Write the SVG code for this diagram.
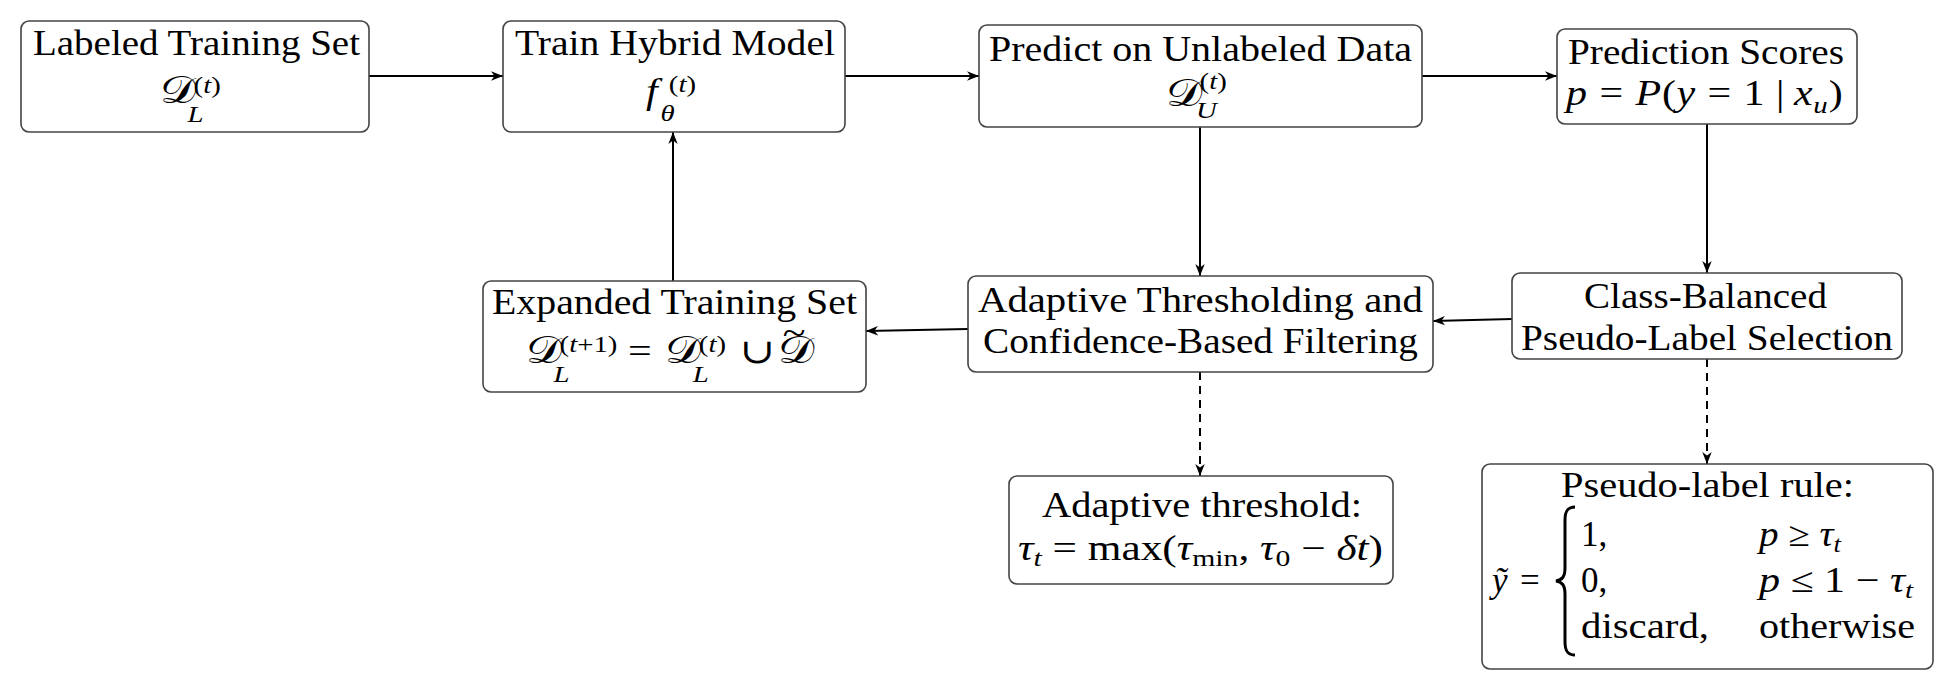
<svg xmlns="http://www.w3.org/2000/svg" width="1952" height="689" viewBox="0 0 1952 689">
<defs>
<style>
.box{fill:#fff;stroke:#444;stroke-width:1.6}
.t{font-family:"Liberation Serif","DejaVu Serif",serif;font-size:35px;fill:#000}
.i{font-style:italic}
.s{font-size:24px}
.cal{font-family:"DejaVu Sans","Noto Sans","Liberation Serif",serif;font-style:normal;font-size:38px}
.ln{fill:none;stroke:#000;stroke-width:2}
.dash{stroke-dasharray:8 6}
</style>
<marker id="ah" markerUnits="userSpaceOnUse" markerWidth="14" markerHeight="12" refX="12" refY="5" orient="auto">
<path d="M0,0.3 L12,5 L0,9.7 L3.5,5 Z" fill="#000"/>
</marker>
</defs>
<rect width="1952" height="689" fill="#fff"/>

<g id="connectors">
<line class="ln" x1="369" y1="76" x2="503" y2="76" marker-end="url(#ah)"/>
<line class="ln" x1="845" y1="76" x2="979" y2="76" marker-end="url(#ah)"/>
<line class="ln" x1="1422" y1="76" x2="1557" y2="76" marker-end="url(#ah)"/>
<line class="ln" x1="1707" y1="124" x2="1707" y2="273" marker-end="url(#ah)"/>
<line class="ln" x1="1200" y1="127" x2="1200" y2="276" marker-end="url(#ah)"/>
<line class="ln" x1="1512" y1="319" x2="1433" y2="321" marker-end="url(#ah)"/>
<line class="ln" x1="968" y1="329" x2="866" y2="331" marker-end="url(#ah)"/>
<line class="ln" x1="673" y1="281" x2="673" y2="132" marker-end="url(#ah)"/>
<line class="ln dash" x1="1200" y1="372" x2="1200" y2="476" marker-end="url(#ah)"/>
<line class="ln dash" x1="1707" y1="359" x2="1707" y2="464" marker-end="url(#ah)"/>
</g>

<g id="labeled">
<rect class="box" x="21" y="21" width="348" height="111" rx="8"/>
<text class="t" x="33" y="55" textLength="327" lengthAdjust="spacingAndGlyphs">Labeled Training Set</text>
<g transform="translate(160,0) scale(1.2,1)">
<text class="t" y="103"><tspan class="cal" x="0">𝒟</tspan><tspan class="s" x="28" y="93">(<tspan class="i">t</tspan>)</tspan><tspan class="s i" x="23" y="122">L</tspan></text>
</g>
</g>

<g id="train">
<rect class="box" x="503" y="21" width="342" height="111" rx="8"/>
<text class="t" x="515" y="55" textLength="320" lengthAdjust="spacingAndGlyphs">Train Hybrid Model</text>
<g transform="translate(646,0) scale(1.2,1)">
<text class="t" y="103"><tspan class="i" x="0">f</tspan><tspan class="s i" x="12" y="121">θ</tspan><tspan class="s" x="19" y="92">(<tspan class="i">t</tspan>)</tspan></text>
</g>
</g>

<g id="predict">
<rect class="box" x="979" y="25" width="443" height="102" rx="8"/>
<text class="t" x="989" y="61" textLength="423" lengthAdjust="spacingAndGlyphs">Predict on Unlabeled Data</text>
<g transform="translate(1166,0) scale(1.2,1)">
<text class="t" y="106"><tspan class="cal" x="0">𝒟</tspan><tspan class="s" x="28" y="89">(<tspan class="i">t</tspan>)</tspan><tspan class="s i" x="25" y="118">U</tspan></text>
</g>
</g>

<g id="scores">
<rect class="box" x="1557" y="29" width="300" height="95" rx="8"/>
<text class="t" x="1568" y="64" textLength="276" lengthAdjust="spacingAndGlyphs">Prediction Scores</text>
<g transform="translate(1566,0) scale(1.2,1)">
<text class="t" y="105"><tspan class="i" x="0">p</tspan><tspan x="28">=</tspan><tspan class="i" x="58">P</tspan><tspan x="80">(</tspan><tspan class="i" x="92">y</tspan><tspan x="118">=</tspan><tspan x="148">1</tspan><tspan x="175">|</tspan><tspan class="i" x="190">x</tspan><tspan class="s i" x="206" y="113">u</tspan><tspan x="219" y="105">)</tspan></text>
</g>
</g>

<g id="classbal">
<rect class="box" x="1512" y="273" width="390" height="86" rx="8"/>
<text class="t" x="1584" y="308" textLength="243" lengthAdjust="spacingAndGlyphs">Class-Balanced</text>
<text class="t" x="1521" y="350" textLength="372" lengthAdjust="spacingAndGlyphs">Pseudo-Label Selection</text>
</g>

<g id="adaptive">
<rect class="box" x="968" y="276" width="465" height="96" rx="8"/>
<text class="t" x="978" y="312" textLength="445" lengthAdjust="spacingAndGlyphs">Adaptive Thresholding and</text>
<text class="t" x="983" y="353" textLength="435" lengthAdjust="spacingAndGlyphs">Confidence-Based Filtering</text>
</g>

<g id="expanded">
<rect class="box" x="483" y="281" width="383" height="111" rx="8"/>
<text class="t" x="492" y="314" textLength="365" lengthAdjust="spacingAndGlyphs">Expanded Training Set</text>
<g transform="translate(526,0) scale(1.2,1)">
<text class="t" y="363"><tspan class="cal" x="0">𝒟</tspan><tspan class="s" x="28" y="352">(<tspan class="i">t</tspan>+1)</tspan><tspan class="s i" x="23" y="382">L</tspan><tspan x="85" y="363">=</tspan><tspan class="cal" x="116">𝒟</tspan><tspan class="s" x="144" y="352">(<tspan class="i">t</tspan>)</tspan><tspan class="s i" x="139" y="382">L</tspan><tspan x="178" y="363">∪</tspan><tspan class="cal" x="210">𝒟</tspan><tspan x="214" y="345">~</tspan></text>
</g>
</g>

<g id="threshold">
<rect class="box" x="1009" y="476" width="384" height="108" rx="8"/>
<text class="t" x="1042" y="517" textLength="320" lengthAdjust="spacingAndGlyphs">Adaptive threshold:</text>
<text class="t" x="1018" y="560" textLength="365" lengthAdjust="spacingAndGlyphs"><tspan class="i">τ</tspan><tspan class="s i" dy="6">t</tspan><tspan dy="-6"> = max(</tspan><tspan class="i">τ</tspan><tspan class="s" dy="6">min</tspan><tspan dy="-6">, </tspan><tspan class="i">τ</tspan><tspan class="s" dy="6">0</tspan><tspan dy="-6"> − </tspan><tspan class="i">δt</tspan>)</text>
</g>

<g id="rule">
<rect class="box" x="1482" y="464" width="451" height="205" rx="8"/>
<text class="t" x="1561" y="497" textLength="293" lengthAdjust="spacingAndGlyphs">Pseudo-label rule:</text>
<text class="t" y="592"><tspan class="i" x="1492">ỹ</tspan><tspan x="1520">=</tspan></text>
<path d="M1575,507 C1567,507 1565,512 1565,520 L1565,568 C1565,577 1562,580 1556,581 C1562,582 1565,585 1565,594 L1565,642 C1565,650 1567,655 1575,655" fill="none" stroke="#000" stroke-width="3"/>
<text class="t" x="1581" y="546">1,</text>
<text class="t" x="1581" y="592">0,</text>
<text class="t" x="1581" y="638" textLength="128" lengthAdjust="spacingAndGlyphs">discard,</text>
<text class="t" x="1759" y="546" textLength="82" lengthAdjust="spacingAndGlyphs"><tspan class="i">p</tspan> ≥ <tspan class="i">τ</tspan><tspan class="s i" dy="6">t</tspan></text>
<text class="t" x="1759" y="592" textLength="154" lengthAdjust="spacingAndGlyphs"><tspan class="i">p</tspan> ≤ 1 − <tspan class="i">τ</tspan><tspan class="s i" dy="6">t</tspan></text>
<text class="t" x="1759" y="638" textLength="156" lengthAdjust="spacingAndGlyphs">otherwise</text>
</g>
</svg>
